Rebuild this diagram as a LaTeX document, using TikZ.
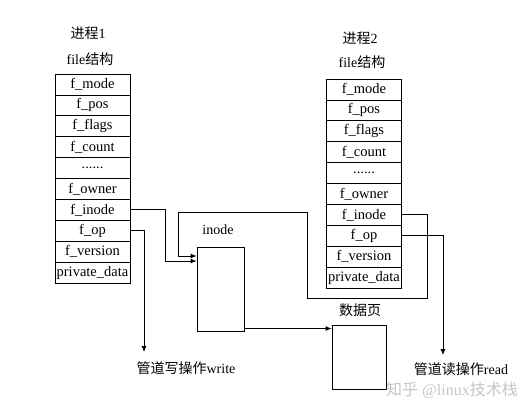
\documentclass[tikz,border=0pt]{standalone}
\usepackage{fontspec}
\setmainfont{Liberation Serif}
\newfontfamily\cjk{Noto Sans CJK SC}
\usetikzlibrary{arrows.meta}
\newcommand\rowdots{......}
\tikzset{
  row/.style={draw, line width=0.8pt, minimum width=75pt, minimum height=20.9pt, inner sep=0pt, font=\fontsize{14.5}{14.5}\selectfont},
  title/.style={font=\fontsize{14}{14}\selectfont, inner sep=0pt},
  box/.style={draw, line width=0.8pt, inner sep=0pt},
  arr/.style={line width=0.8pt, -{Latex[length=6pt,width=5pt]}},
}
\begin{document}
\begin{tikzpicture}[x=1pt,y=-1pt]
\useasboundingbox (0,0) rectangle (531,413);
% titles
\node[title] (t1) at (88,33) {{\cjk 进程}1};
\node[title] (f1) at (90,59) {file{\cjk 结构}};
\node[title] (t2) at (360,38) {{\cjk 进程}2};
\node[title] (f2) at (362,62) {file{\cjk 结构}};
% tables
\foreach \i/\t in {1/f\_mode,2/f\_pos,3/f\_flags,4/f\_count,5/\rowdots,6/f\_owner,7/f\_inode,8/f\_op,9/f\_version,10/private\_data}{
  \node[row] (L\i) at (92.5,{74+20.9*(\i-0.5)}) {\t};
  \node[row] (R\i) at (364,{79+20.9*(\i-0.5)}) {\t};
}
% inode box
\node[box, minimum width=47pt, minimum height=84pt] (inode) at (220.5,289) {};
\node[title] (inl) at (218,230) {inode};
% data page
\node[box, minimum width=54pt, minimum height=64pt] (data) at (359,357) {};
\node[title] (dl) at (360,310) {\cjk 数据页};
% labels
\node[title] (W) at (186,368) {{\cjk 管道写操作}write};
\node[title] (Rd) at (461,369) {{\cjk 管道读操作}read};
\coordinate (wtip) at (144,352);
\coordinate (rtip) at (443,355);
\coordinate (ya) at (0,261);
\coordinate (yb) at (0,256);
\coordinate (yc) at (0,328.5);
% connectors
\draw[arr] (L7.east) -| (165,261) -- (inode.west |- ya);
\draw[arr] (R7.east) -| (427,298) -| (307,212) -| (178,256) -- (inode.west |- yb);
\draw[arr] (L8.east) -| (wtip);
\draw[arr] (R8.east) -| (rtip);
\draw[arr] (inode.east |- yc) -- (data.west |- yc);
% watermark
\node[font=\fontsize{16}{16}\selectfont, text=gray!45, inner sep=0pt] (wm) at (452,390) {{\cjk 知乎} @linux{\cjk 技术栈}};
\end{tikzpicture}
\end{document}
